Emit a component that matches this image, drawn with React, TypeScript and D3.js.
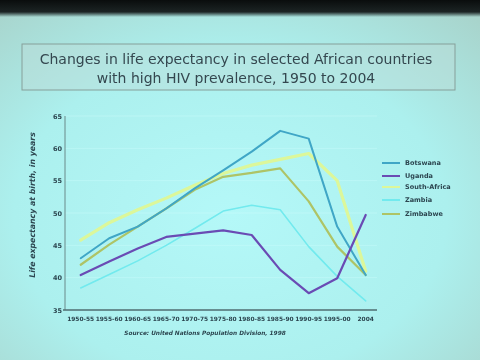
import React from "react";
import * as d3 from "d3";

const periods = ["1950-55", "1955-60", "1960-65", "1965-70", "1970-75", "1975-80", "1980-85", "1985-90", "1990-95", "1995-00", "2004"];
const yTicks = [35, 40, 45, 50, 55, 60, 65];

const botswana = [43.0, 46.1, 47.9, 50.7, 53.8, 56.6, 59.5, 62.7, 61.5, 47.9, 40.4];
const uganda = [40.4, 42.5, 44.5, 46.3, 46.8, 47.3, 46.6, 41.2, 37.6, 39.9, 49.7];
const southAfrica = [45.8, 48.5, 50.5, 52.3, 54.3, 56.1, 57.4, 58.3, 59.2, 55.0, 41.0];
const zambia = [38.4, 40.5, 42.6, 45.0, 47.6, 50.3, 51.2, 50.5, 44.8, 40.2, 36.4];
const zimbabwe = [42.0, 45.1, 47.9, 50.7, 53.6, 55.6, 56.2, 56.9, 51.8, 44.8, 40.4];

const series = [
  { name: "Botswana", values: botswana, color: "#3fa6c6", width: 2 },
  { name: "Uganda", values: uganda, color: "#6a4bb4", width: 2.2 },
  { name: "South-Africa", values: southAfrica, color: "#dcf79a", width: 3.2 },
  { name: "Zambia", values: zambia, color: "#72eaee", width: 1.6 },
  { name: "Zimbabwe", values: zimbabwe, color: "#aec466", width: 2.2 },
];

// drawing order: light lines under the darker ones
const drawOrder = ["Zambia", "South-Africa", "Zimbabwe", "Botswana", "Uganda"];
const legendY = [163, 176, 187, 200, 214];

export default function App() {
  const x = d3.scalePoint<string>().domain(periods).range([80.7, 365.7]);
  const y = d3.scaleLinear().domain([35, 65]).range([310, 116]);
  const line = d3
    .line<number>()
    .x((_, i) => x(periods[i]) as number)
    .y((d) => y(d));

  const font = "'DejaVu Sans', Verdana, sans-serif";
  const ink = "#2c4650";

  return (
    <svg
      width={480}
      height={360}
      style={{ position: "fixed", top: 0, left: 0, display: "block" }}
    >
      <defs>
        <radialGradient id="bg" cx="0.48" cy="0.6" r="0.75">
          <stop offset="0" stopColor="#b4f8f8" />
          <stop offset="0.6" stopColor="#acf0ee" />
          <stop offset="1" stopColor="#a8d4cc" />
        </radialGradient>
        <linearGradient id="topband" x1="0" y1="0" x2="0" y2="1">
          <stop offset="0" stopColor="#0a0d0d" />
          <stop offset="0.7" stopColor="#1c2424" />
          <stop offset="1" stopColor="#1c2424" stopOpacity="0" />
        </linearGradient>
        <filter id="soft" x="-5%" y="-5%" width="110%" height="110%">
          <feGaussianBlur stdDeviation="0.5" />
        </filter>
      </defs>

      <rect width={480} height={360} fill="url(#bg)" />
      <rect width={480} height={17} fill="url(#topband)" />

      {/* title box */}
      <rect x={22} y={44} width={433} height={46} fill="#bcdcd6" fillOpacity={0.45} stroke="#869f9a" strokeWidth={1} />
      <text x={236} y={64} textAnchor="middle" fontFamily={font} fontSize={14} fill="#34474f">
        Changes in life expectancy in selected African countries
      </text>
      <text x={236} y={83} textAnchor="middle" fontFamily={font} fontSize={14} fill="#34474f">
        with high HIV prevalence, 1950 to 2004
      </text>

      {/* gridlines */}
      {yTicks.slice(1).map((t) => (
        <line key={t} x1={65} x2={377} y1={y(t)} y2={y(t)} stroke="#d4ffff" strokeOpacity={0.35} strokeWidth={1} />
      ))}

      {/* axes */}
      <line x1={65} x2={65} y1={y(65)} y2={y(35)} stroke="#6a8a8a" strokeWidth={1} />
      <line x1={63} x2={377} y1={y(35)} y2={y(35)} stroke="#4f6c70" strokeWidth={1.5} />

      {yTicks.map((t) => (
        <text
          key={t}
          x={62}
          y={y(t) + 2.5}
          textAnchor="end"
          fontFamily={font}
          fontSize={6.5}
          fontWeight="bold"
          fill={ink}
        >
          {t}
        </text>
      ))}
      {periods.map((p) => (
        <text
          key={p}
          x={x(p)}
          y={321}
          textAnchor="middle"
          fontFamily={font}
          fontSize={5.9}
          fontWeight="bold"
          fill={ink}
        >
          {p}
        </text>
      ))}

      <text
        transform={`translate(35,205) rotate(-90)`}
        textAnchor="middle"
        fontFamily={font}
        fontSize={7.8}
        fontWeight="bold"
        fontStyle="italic"
        fill={ink}
      >
        Life expectancy at birth, in years
      </text>

      <text x={205} y={335} textAnchor="middle" fontFamily={font} fontSize={5.8} fontWeight="bold" fontStyle="italic" fill={ink}>
        Source: United Nations Population Division, 1998
      </text>

      {/* series */}
      <g filter="url(#soft)">
        {drawOrder.map((n) => {
          const s = series.find((d) => d.name === n)!;
          return (
            <path
              key={s.name}
              d={line(s.values) || ""}
              fill="none"
              stroke={s.color}
              strokeWidth={s.width}
              strokeLinejoin="round"
              strokeLinecap="round"
            />
          );
        })}
      </g>

      {/* legend */}
      {series.map((s, i) => (
        <g key={s.name}>
          <line x1={382} x2={400} y1={legendY[i]} y2={legendY[i]} stroke={s.color} strokeWidth={2} />
          <text x={405} y={legendY[i] + 2.4} fontFamily={font} fontSize={6.5} fontWeight="bold" fill={ink}>
            {s.name}
          </text>
        </g>
      ))}
    </svg>
  );
}
